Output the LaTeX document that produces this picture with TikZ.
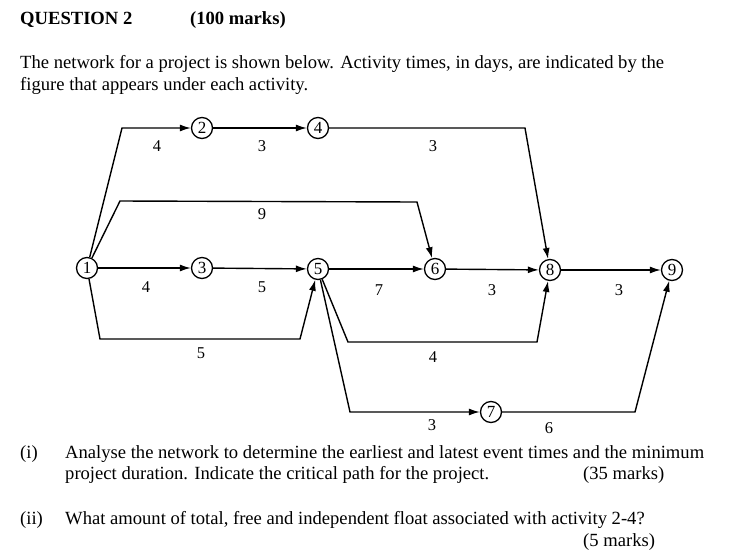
\documentclass[tikz,border=0pt]{standalone}
\usepackage{fontspec}
\setmainfont{Liberation Serif}
\usetikzlibrary{arrows.meta}
\begin{document}
\begin{tikzpicture}[x=1pt,y=-1pt,
  ev/.style={circle,draw,line width=1.3pt,inner sep=0pt,minimum size=21pt,font=\fontsize{17}{17}\selectfont},
  act/.style={line width=1.4pt,-{Latex[length=11pt,width=7pt]}},
  lab/.style={font=\fontsize{16.5}{16.5}\selectfont},
  txt/.style={anchor=base west,inner sep=0pt,font=\fontsize{18.6}{20}\selectfont}]
\useasboundingbox (0,0) rectangle (753,558);
\node[txt,font=\fontsize{18.6}{20}\selectfont\bfseries] (q) at (20,24) {QUESTION 2};
\node[txt,font=\fontsize{18.6}{20}\selectfont\bfseries] (m) at (190,24) {(100 marks)};
\node[txt] (p1) at (20,68) {The network for a project is shown below. Activity times, in days, are indicated by the};
\node[txt] (p2) at (20,90) {figure that appears under each activity.};
\node[ev] (n1) at (87,268) {1};
\node[ev] (n2) at (202,128) {2};
\node[ev] (n4) at (318,128) {4};
\node[ev] (n3) at (202,268) {3};
\node[ev] (n5) at (318,269) {5};
\node[ev] (n6) at (435,269) {6};
\node[ev] (n8) at (550,270) {8};
\node[ev] (n9) at (672,270) {9};
\node[ev] (n7) at (491,412) {7};
\coordinate (c1) at (122,128);
\coordinate (c2) at (525,128);
\coordinate (c3) at (120,201);
\coordinate (c4) at (417,202);
\coordinate (c5) at (100,339);
\coordinate (c6) at (300,339);
\coordinate (c7) at (348,342);
\coordinate (c8) at (537,342);
\coordinate (c9) at (350,412);
\coordinate (c10) at (635,412);
\draw[act] (n1) -- (c1) -- (n2);
\draw[act] (n2) -- (n4);
\draw[act] (n4) -- (c2) -- (n8);
\draw[act] (n1) -- (c3) -- (c4) -- (n6);
\draw[act] (n1) -- (n3);
\draw[act] (n3) -- (n5);
\draw[act] (n5) -- (n6);
\draw[act] (n6) -- (n8);
\draw[act] (n8) -- (n9);
\draw[act] (n1) -- (c5) -- (c6) -- (n5);
\draw[act] (n5) -- (c7) -- (c8) -- (n8);
\draw[act] (n5) -- (c9) -- (n7);
\draw[act] (n7) -- (c10) -- (n9);
\node[lab] (l1) at (157,146) {4};
\node[lab] (l2) at (262,146) {3};
\node[lab] (l3) at (433,146) {3};
\node[lab] (l4) at (262,214) {9};
\node[lab] (l5) at (146,287) {4};
\node[lab] (l6) at (262,287) {5};
\node[lab] (l7) at (379,290) {7};
\node[lab] (l8) at (492,290) {3};
\node[lab] (l9) at (619,290) {3};
\node[lab] (l10) at (201,353) {5};
\node[lab] (l11) at (433,357) {4};
\node[lab] (l12) at (432,425) {3};
\node[lab] (l13) at (549,428) {6};
\node[txt] (i) at (20,458) {(i)};
\node[txt] (a1) at (65,458) {Analyse the network to determine the earliest and latest event times and the minimum};
\node[txt] (a2) at (65,479) {project duration. Indicate the critical path for the project.};
\node[txt] (a3) at (583,479) {(35 marks)};
\node[txt] (ii) at (20,524) {(ii)};
\node[txt] (b1) at (65,524) {What amount of total, free and independent float associated with activity 2-4?};
\node[txt] (b2) at (583,546) {(5 marks)};
\end{tikzpicture}
\end{document}
